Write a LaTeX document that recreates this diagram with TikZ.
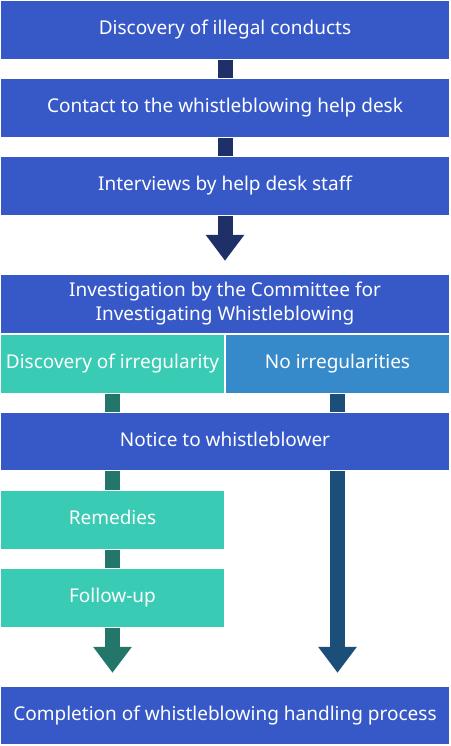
\documentclass[tikz,border=0pt]{standalone}
\usepackage{fontspec}
\setmainfont{Noto Sans}
\usetikzlibrary{arrows.meta}
\definecolor{boxblue}{HTML}{3759C8}
\definecolor{navy}{HTML}{1F3068}
\definecolor{teal}{HTML}{3ACBB5}
\definecolor{lblue}{HTML}{368ACA}
\definecolor{dteal}{HTML}{24756A}
\definecolor{dblue}{HTML}{1B4F7A}
\tikzset{
  box/.style={rectangle, inner sep=0pt, text=white, font=\fontsize{19}{24}\selectfont, align=center, minimum height=58pt,
    execute at begin node={\rule[-5pt]{0pt}{19pt}}, execute at end node={\rule[-5pt]{0pt}{0pt}}},
  wide/.style={box, fill=boxblue, minimum width=448pt},
  half/.style={box, minimum width=223pt},
  conn/.style={line width=15pt},
  bigarrow/.style={line width=15pt, -{Triangle[width=37pt,length=26pt]}},
}
\begin{document}
\begin{tikzpicture}[x=1pt,y=-1pt]
\useasboundingbox (0,0) rectangle (450,746);
\node[wide] (b1) at (225,30) {Discovery of illegal conducts};
\node[wide] (b2) at (225,108) {Contact to the whistleblowing help desk};
\node[wide] (b3) at (225,186) {Interviews by help desk staff};
\node[wide] (b4) at (225,304) {Investigation by the Committee for\\Investigating Whistleblowing};
\node[half, fill=teal] (irr) at (112.5,364) {Discovery of irregularity};
\node[half, fill=lblue] (noirr) at (337.5,364) {No irregularities};
\node[wide, minimum height=57pt] (notice) at (225,441.5) {Notice to whistleblower};
\node[half, fill=teal] (rem) at (112.5,520) {Remedies};
\node[half, fill=teal] (fol) at (112.5,598) {Follow-up};
\node[wide, minimum height=57pt] (fin) at (225,715.5) {Completion of whistleblowing handling process};
\draw[conn, navy] ([yshift=-1pt]b1.south) -- ([yshift=1pt]b2.north);
\draw[conn, navy] ([yshift=-1pt]b2.south) -- ([yshift=1pt]b3.north);
\draw[bigarrow, navy] ([yshift=-1pt]b3.south) -- ([yshift=14pt]b4.north);
\draw[conn, dteal] ([yshift=-1pt]irr.south) -- ([yshift=1pt]irr.south |- notice.north);
\draw[conn, dblue] ([yshift=-1pt]noirr.south) -- ([yshift=1pt]noirr.south |- notice.north);
\draw[conn, dteal] ([yshift=-1pt]rem.north |- notice.south) -- ([yshift=1pt]rem.north);
\draw[conn, dteal] ([yshift=-1pt]rem.south) -- ([yshift=1pt]fol.north);
\draw[bigarrow, dteal] ([yshift=-1pt]fol.south) -- ([yshift=14pt]fol.south |- fin.north);
\draw[bigarrow, dblue] ([yshift=-1pt]noirr.south |- notice.south) -- ([yshift=14pt]noirr.south |- fin.north);
\end{tikzpicture}
\end{document}
